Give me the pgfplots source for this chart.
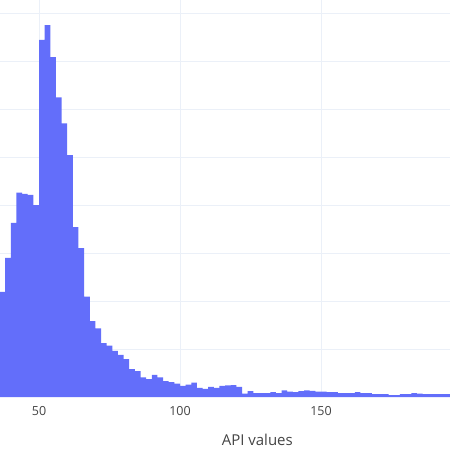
\documentclass[border=0pt]{standalone}
\usepackage{pgfplots}
\pgfplotsset{compat=1.18}
\usepackage{fontspec}
\setmainfont{Open Sans}
\definecolor{bar}{HTML}{636EFA}
\definecolor{grd}{HTML}{EBF0F8}
\definecolor{txt}{HTML}{444444}
\begin{document}
\begin{tikzpicture}
\begin{axis}[name=ax, scale only axis, width=450pt, height=397pt, at={(0,0)}, anchor=north west,
  xmin=36.17, xmax=195.74, ymin=0, ymax=827.1,
  xtick={50,100,150}, ytick={100,200,...,800}, yticklabels={},
  grid=major, major grid style={draw=grd, line width=1pt},
  axis line style={draw=none}, major tick length=0pt,
  xticklabel style={anchor=base, yshift=-18pt, font=\fontsize{12.5}{14}\selectfont, text=txt},
  /pgf/number format/assume math mode=true,
]
\addplot[const plot, fill=bar, draw=none] coordinates {
(36,219) (38,290) (40,363) (42,426) (44,423) (46,421) (48,400) (50,744) (52,775) (54,708)
(56,624) (58,570) (60,504) (62,354) (64,310) (66,209) (68,158) (70,143) (72,112) (74,107)
(76,96) (78,88) (80,79) (82,58) (84,54) (86,41) (88,37) (90,46) (92,41) (94,33) (96,31)
(98,28) (100,23) (102,26) (104,30) (106,19) (108,17) (110,21) (112,19) (114,23) (116,24)
(118,25) (120,21) (122,7) (124,12) (126,8) (128,8) (130,8) (132,10) (134,8) (136,14)
(138,11) (140,10) (142,12) (144,14) (146,13) (148,11) (150,11) (152,10) (154,10) (156,8)
(158,8) (160,8) (162,10) (164,8) (166,8) (168,6) (170,6) (172,6) (174,4) (176,4) (178,6)
(180,6) (182,8) (184,7) (186,6) (188,6) (190,6) (192,6) (194,6) (196,6)
} \closedcycle;
\end{axis}
\node[anchor=base, text=txt, font=\fontsize{15}{18}\selectfont] at (257.3pt,-445pt) {API values};
\pgfresetboundingbox
\path[use as bounding box] (0,0) rectangle (450pt,-450pt);
\end{tikzpicture}
\end{document}
